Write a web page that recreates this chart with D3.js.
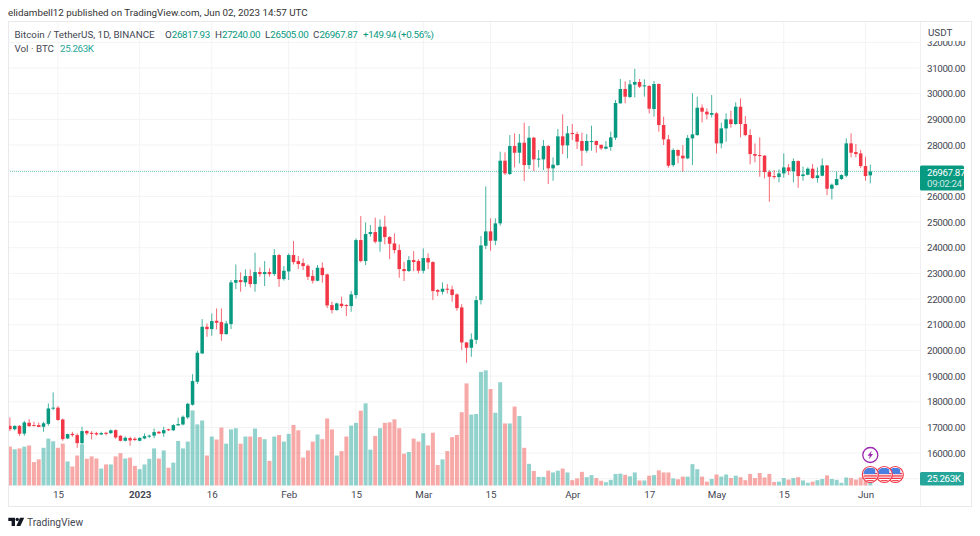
<!DOCTYPE html>
<html>
<head>
<meta charset="utf-8">
<script src="https://cdnjs.cloudflare.com/ajax/libs/d3/7.8.5/d3.min.js"></script>
<style>
	body{margin:0;background:#fff;}
	svg{display:block;}
	text{font-family:Roboto,sans-serif;}
	.num{letter-spacing:-0.38px;}
</style>
</head>
<body>
<svg id="chart" width="980" height="536"></svg>
<script>
var opens = [
	17060,16930,17060,16760,17180,17090,17090,17025,17140,17750,
	17770,17310,16570,16750,16700,16390,16860,16790,16780,16727,
	16790,16780,16895,16675,16480,16584,16560,16480,16570,16650,
	16680,16830,16770,16930,16890,17080,17115,17390,17883,18778,
	19882,20921,20830,21155,21103,20635,21025,22636,22740,22650,
	22895,22584,23051,22973,23051,22973,23714,22778,23077,23714,
	23480,23402,23298,22895,22714,23220,22960,21765,21570,21817,
	21765,21726,22155,24298,23480,24532,24610,24233,24818,24415,
	24168,23909,23168,23090,23519,23480,23103,23597,23441,22350,
	22285,22402,22376,22181,21674,20310,20103,20414,21960,24077,
	24636,24273,24948,27389,26870,27960,27700,28090,27220,28285,
	27441,27441,27960,27090,27220,28337,27987,28467,28428,28155,
	27779,28129,28155,28012,27857,27922,28285,29623,30182,29870,
	30351,30455,30286,30299,29402,30377,28779,28220,27220,27805,
	27584,27480,28259,28389,29454,29298,29180,29233,28064,28648,
	29000,28817,29493,28817,28389,27648,27610,27583,26947,26790,
	26752,26895,27129,26986,27375,26791,26843,27077,26713,26804,
	27206,26297,26440,26674,26804,28064,27726,27674,27180,26817.93];

var highs = [
	17390,17080,17090,17260,17325,17220,17190,17220,17935,18364,
	17830,17340,16760,16830,16765,17026,16890,16857,16830,16830,
	16830,16920,16920,16700,16650,16640,16620,16620,16766,16720,
	16960,16860,17026,16950,17130,17376,17467,17960,19076,19985,
	21220,21050,21440,21635,21635,21155,22740,23350,23038,23155,
	23155,23805,23233,23480,23195,23948,23760,23285,23779,24259,
	23675,23584,23350,23130,23324,23428,22990,21895,21860,22090,
	21800,22311,24363,25233,24987,24883,25169,25104,25246,24450,
	24558,24129,23454,23675,23870,23550,23973,23779,23470,22390,
	22648,22584,22519,22220,21804,20330,20661,22116,24454,26386,
	25143,25143,27740,27714,28389,28454,28428,28870,28740,28320,
	27805,28194,28000,27519,28623,29195,28740,28818,28519,28480,
	28428,28753,28180,27920,28155,28519,29753,30571,30481,30533,
	30970,30571,30559,30340,30494,30400,29104,28389,27870,27830,
	28000,28389,30012,29883,29584,29428,29947,29280,28869,29233,
	29337,29662,29818,29129,28610,28064,28298,27610,27030,27025,
	27051,27674,27258,27479,27400,27155,27130,27258,27128,27479,
	27220,26500,26960,26860,28259,28454,28038,27804,27544,27240];

var lows = [
	16857,16880,16675,16675,17025,17050,17010,16830,17065,17675,
	17260,16480,16545,16635,16207,16350,16700,16530,16680,16700,
	16690,16740,16558,16454,16454,16285,16470,16460,16540,16585,
	16585,16740,16636,16860,16860,17060,17080,17330,17850,18690,
	19856,20531,20570,20817,20375,20610,20830,22389,22285,22480,
	22454,22285,22870,22506,22870,22900,22480,22720,22740,23350,
	23168,23130,22740,22610,22690,22636,21648,21440,21550,21650,
	21336,21505,22025,23428,23324,24428,24168,23844,24129,23558,
	23779,22830,22700,23060,23090,23000,23000,23168,21960,22116,
	22181,22220,21895,21545,20012,19518,19752,20245,21791,23948,
	23882,24103,24860,26830,26830,27129,27285,26597,27064,26986,
	27129,27025,26480,26610,27190,27649,27480,28194,27844,27181,
	27700,27779,27700,27805,27830,27779,28194,29610,29623,29830,
	29857,30221,29883,29234,29104,28519,28000,27116,27150,27285,
	26960,27450,27220,28360,28882,29000,29077,27674,27869,28129,
	28674,28780,28298,28340,27246,27323,26765,26700,25790,26674,
	26544,26726,26830,26544,26336,26609,26820,26680,26531,26780,
	26050,25882,26420,26640,26739,27518,27518,27100,26609,26505];

var closes = [
	16930,17060,16753,17195,17050,17060,17020,17160,17740,17770,
	17290,16545,16740,16700,16390,16857,16770,16750,16727,16780,
	16770,16885,16610,16480,16597,16493,16510,16590,16660,16680,
	16818,16770,16896,16890,17090,17130,17415,17920,18805,19908,
	20921,20830,21142,21077,20635,21050,22649,22740,22660,22895,
	22584,23051,22973,23051,22973,23714,22778,23103,23714,23441,
	23363,23285,22869,22714,23220,22934,21752,21570,21830,21726,
	21726,22181,24298,23480,24532,24610,24233,24818,24415,24155,
	23909,23168,23090,23519,23441,23103,23597,23428,22311,22285,
	22402,22363,22155,21648,20310,20103,20427,21960,24090,24636,
	24273,24948,27389,26895,27960,27700,28090,27220,28285,27441,
	27470,27960,27090,27233,28337,27987,28454,28428,28129,27779,
	28155,28155,28000,27870,27935,28298,29636,30182,29883,30364,
	30455,30273,30325,29415,30377,28779,28220,27194,27805,27584,
	27480,28272,28415,29454,29298,29194,29246,28064,28648,29000,
	28817,29493,28817,28389,27648,27583,27570,26947,26765,26752,
	26895,27129,26986,27375,26791,26856,27077,26713,26817,27206,
	26297,26453,26674,26830,28064,27700,27648,27180,26791,26967.87];

var volumes = [
	131,122,125,131,135,79,88,127,158,149,
	127,141,81,64,101,139,90,98,91,57,
	71,71,98,109,91,94,66,55,71,90,
	125,91,118,60,77,150,125,148,253,206,
	219,101,165,155,195,141,189,193,141,165,
	165,192,163,156,83,165,170,148,174,204,
	186,94,118,148,172,156,226,189,101,116,
	165,202,211,252,277,121,167,193,211,213,
	223,193,107,113,158,148,176,135,178,69,
	88,116,163,170,247,344,239,241,383,388,
	325,245,348,209,209,266,234,127,73,49,
	29,29,50,44,50,57,44,18,24,46,
	28,35,25,16,11,19,39,40,36,31,
	44,17,17,33,35,51,44,44,24,21,
	30,30,72,55,30,13,22,37,30,37,
	25,33,28,18,39,25,42,27,39,12,
	13,25,20,25,28,17,9,13,18,22,
	34,22,19,9,27,25,20,27,17,25.263];

var firstDay = new Date(Date.UTC(2022,11,5));
var lastDay = new Date(Date.UTC(2023,5,2));

var tickDates = [
	new Date(Date.UTC(2022,11,15)),new Date(Date.UTC(2023,0,1)),new Date(Date.UTC(2023,0,16)),
	new Date(Date.UTC(2023,1,1)),new Date(Date.UTC(2023,1,15)),new Date(Date.UTC(2023,2,1)),
	new Date(Date.UTC(2023,2,15)),new Date(Date.UTC(2023,3,1)),new Date(Date.UTC(2023,3,17)),
	new Date(Date.UTC(2023,4,1)),new Date(Date.UTC(2023,4,15)),new Date(Date.UTC(2023,5,1))];
var tickLabels = ["15","2023","16","Feb","15","Mar","15","Apr","17","May","15","Jun"];
var gridPrices = [15000,16000,17000,18000,19000,20000,21000,22000,23000,24000,25000,26000,27000,28000,29000,30000,31000,32000];
// 15000 and 27000 have no label, the tags cover them
var priceTicks = [16000,17000,18000,19000,20000,21000,22000,23000,24000,25000,26000,28000,29000,30000,31000,32000];

var green = "#089981", red = "#f23645", volGreen = "#26a69a", volRed = "#ef5350", textColor = "#434651";
var fontSize = "9.8px";

var svg = d3.select("#chart");

var x = d3.scaleUtc().domain([firstDay,lastDay]).range([9.9,870.3]);
var y = d3.scaleLinear().domain([16000,31000]).range([453.1,68]);
var yVol = d3.scaleLinear().domain([0,400]).range([485.5,366.8]);

var candles = d3.range(closes.length).map(function(i){
	return {date:d3.utcDay.offset(firstDay,i),o:opens[i],h:highs[i],l:lows[i],c:closes[i],v:volumes[i]};
});
function colorOf(d){return d.c >= d.o ? green : red;}

var defs = svg.append("defs");
defs.append("clipPath").attr("id","plot").append("rect").attr("x",8.5).attr("y",22).attr("width",911).attr("height",485);
defs.append("clipPath").attr("id","axisClip").append("rect").attr("x",921).attr("y",41).attr("width",50).attr("height",466);

// grid
var grid = svg.append("g").attr("clip-path","url(#plot)");
grid.selectAll(".gy").data(gridPrices).enter().append("line")
	.attr("x1",8).attr("x2",920).attr("y1",function(d){return y(d);}).attr("y2",function(d){return y(d);})
	.attr("stroke","#f3f3f4").attr("stroke-width",1);
grid.selectAll(".gx").data(tickDates).enter().append("line")
	.attr("x1",function(d){return x(d);}).attr("x2",function(d){return x(d);}).attr("y1",22).attr("y2",486)
	.attr("stroke","#f3f3f4").attr("stroke-width",1);

var plot = svg.append("g").attr("clip-path","url(#plot)");

// volume
plot.append("g").selectAll("rect").data(candles).enter().append("rect")
	.attr("x",function(d){return x(d.date)-2;})
	.attr("width",4)
	.attr("y",function(d){return yVol(d.v);})
	.attr("height",function(d){return yVol(0)-yVol(d.v);})
	.attr("fill",function(d){return d.c >= d.o ? volGreen : volRed;})
	.attr("fill-opacity",0.5);

// last price line
plot.append("line")
	.attr("x1",8).attr("x2",920).attr("y1",y(closes[closes.length-1])).attr("y2",y(closes[closes.length-1]))
	.attr("stroke",green).attr("stroke-width",1).attr("stroke-dasharray","1,1").attr("opacity",0.5);

// candles
var bar = plot.append("g").selectAll("g").data(candles).enter().append("g");
bar.append("line")
	.attr("x1",function(d){return x(d.date);}).attr("x2",function(d){return x(d.date);})
	.attr("y1",function(d){return y(d.h);}).attr("y2",function(d){return y(d.l);})
	.attr("stroke",colorOf).attr("stroke-width",1).attr("stroke-opacity",0.75);
bar.append("rect")
	.attr("x",function(d){return x(d.date)-1.75;})
	.attr("width",3.5)
	.attr("y",function(d){return y(Math.max(d.o,d.c));})
	.attr("height",function(d){return Math.max(1,Math.abs(y(d.o)-y(d.c)));})
	.attr("fill",colorOf);

// frame
svg.append("rect").attr("x",8.5).attr("y",21.5).attr("width",963).attr("height",485)
	.attr("fill","none").attr("stroke","#e9e9ec");
svg.append("line").attr("x1",920.5).attr("x2",920.5).attr("y1",22).attr("y2",506).attr("stroke","#f0f0f2");

// axes
var xAxis = d3.axisBottom(x).tickValues(tickDates).tickSize(0).tickPadding(0)
	.tickFormat(function(d,i){return tickLabels[i];});
var gx = svg.append("g").attr("transform","translate(0,491)").call(xAxis);
gx.select(".domain").remove();
gx.selectAll("text").attr("fill",textColor).style("font-size",fontSize)
	.style("font-weight",function(d,i){return tickLabels[i]=="2023" ? 700 : 400;});

var yAxis = d3.axisRight(y).tickValues(priceTicks).tickSize(0).tickPadding(0).tickFormat(d3.format(".2f"));
var gy = svg.append("g").attr("clip-path","url(#axisClip)").append("g").attr("transform","translate(927,0)").call(yAxis);
gy.select(".domain").remove();
gy.selectAll("text").attr("class","num").attr("fill",textColor).style("font-size",fontSize);

svg.append("text").attr("x",928).attr("y",36).attr("fill",textColor).style("font-size",fontSize).text("USDT");

// price and volume tags
svg.append("rect").attr("x",920).attr("y",165.5).attr("width",44).attr("height",25).attr("rx",1.5).attr("fill",green);
svg.append("text").attr("class","num").attr("x",927).attr("y",175.5).attr("fill","#fff").style("font-size",fontSize).text(d3.format(".2f")(closes[closes.length-1]));
svg.append("text").attr("class","num").attr("x",927).attr("y",187).attr("fill","#fff").attr("fill-opacity",0.8).style("font-size",fontSize).text("09:02:24");
svg.append("rect").attr("x",920).attr("y",472).attr("width",44).attr("height",13.5).attr("rx",1.5).attr("fill",volGreen);
svg.append("text").attr("class","num").attr("x",927).attr("y",482.3).attr("fill","#fff").style("font-size",fontSize).text("25.263K");

// header and legend
svg.append("text").attr("x",8).attr("y",16).attr("fill","#333").style("font-size",fontSize)
	.text("elidambell12 published on TradingView.com, Jun 02, 2023 14:57 UTC");

svg.append("text").attr("x",14.5).attr("y",38).attr("fill",textColor).style("font-size",fontSize).text("Bitcoin / TetherUS, 1D, BINANCE");
var legendX = [165,215,265,313];
var legendK = ["O","H","L","C"];
var legendV = ["26817.93","27240.00","26505.00","26967.87"];
legendK.forEach(function(k,i){
	var t = svg.append("text").attr("x",legendX[i]).attr("y",38).attr("fill",textColor).style("font-size",fontSize).text(k);
	t.append("tspan").attr("class","num").attr("fill",green).text(legendV[i]);
});
svg.append("text").attr("class","num").attr("x",363).attr("y",38).attr("fill",green).style("font-size",fontSize).text("+149.94 (+0.56%)");
svg.append("text").attr("x",14.5).attr("y",52).attr("fill",textColor).style("font-size",fontSize).text("Vol · BTC");
svg.append("text").attr("class","num").attr("x",60).attr("y",52).attr("fill",volGreen).style("font-size",fontSize).text("25.263K");

// event icons
var iconsX = [x(lastDay),x(lastDay)+14,x(lastDay)+25];
defs.append("clipPath").attr("id","flagClip").append("circle").attr("r",7);
var flag = svg.selectAll(".flag").data(iconsX.slice().reverse()).enter().append("g")
	.attr("transform",function(d){return "translate("+d+",474.5)";});
flag.append("circle").attr("r",8).attr("fill","#fff").attr("stroke",red).attr("stroke-width",1.2);
var inner = flag.append("g").attr("clip-path","url(#flagClip)");
d3.range(4).forEach(function(i){
	inner.append("rect").attr("x",-7).attr("y",-1+i*2.4-0.6).attr("width",14).attr("height",1.3).attr("fill",red);
});
inner.append("rect").attr("x",-7).attr("y",-6.5).attr("width",12).attr("height",6).attr("fill","#4a7fe0");

var bolt = svg.append("g").attr("transform","translate("+x(lastDay)+",455)");
bolt.append("circle").attr("r",7.5).attr("fill","#fff").attr("stroke","#9c27b0").attr("stroke-width",1.3);
bolt.append("path").attr("d","M1.6,-4.6 L-2.8,0.8 L-0.4,0.8 L-1.6,4.6 L2.8,-1 L0.4,-1 Z").attr("fill","#9c27b0");

// logo
var logo = svg.append("g").attr("fill","#131722");
logo.append("path").attr("d","M8.3,517.7 H15 V526 H11.6 V521 H8.3 Z");
logo.append("circle").attr("cx",17.2).attr("cy",519.4).attr("r",1.7);
logo.append("path").attr("d","M20,517.7 H24.2 L20.4,526 H16.4 Z");
svg.append("text").attr("x",27).attr("y",526).attr("fill",textColor).style("font-size","10.2px").text("TradingView");
</script>
</body>
</html>
